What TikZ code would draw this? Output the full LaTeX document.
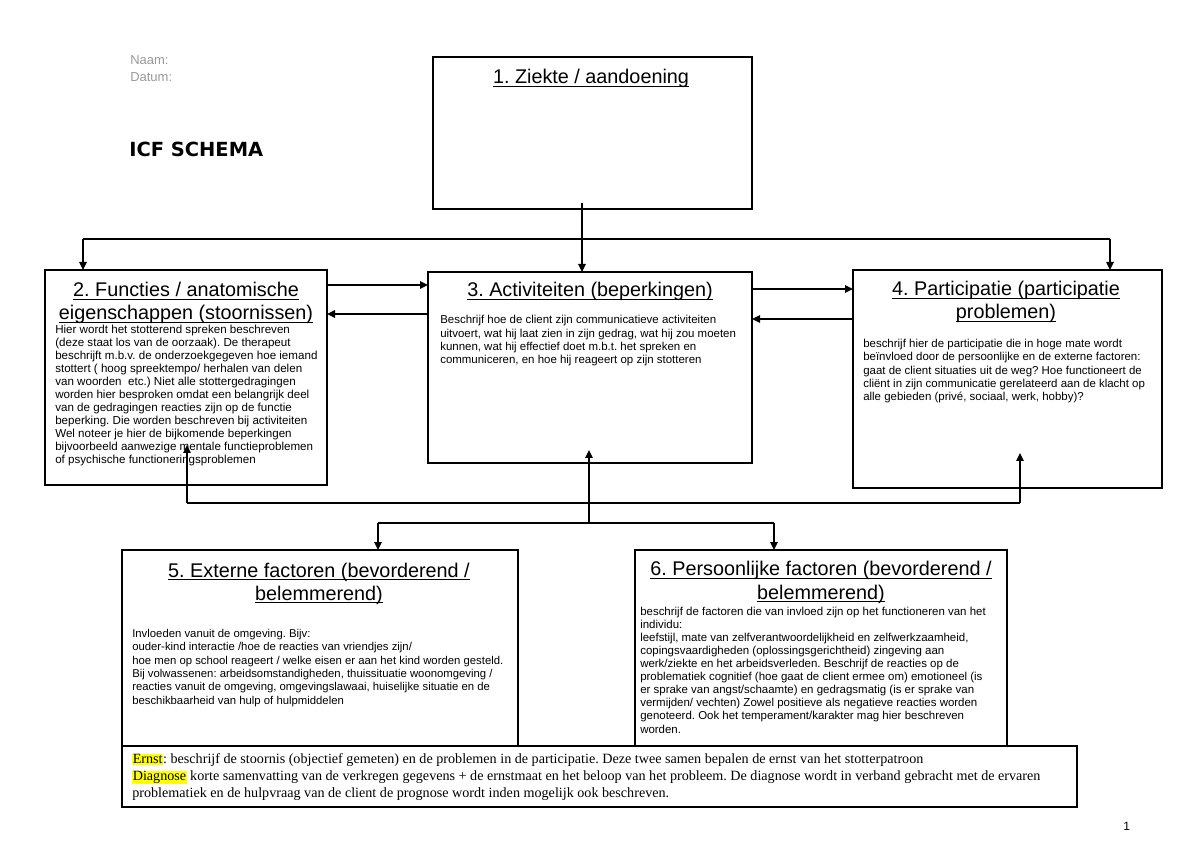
\documentclass[tikz,border=0pt]{standalone}
\usepackage{fontspec}
\setmainfont{Liberation Sans}
\newfontfamily\serifrm{Liberation Serif}
\newfontfamily\headfont{DejaVu Sans}
\usetikzlibrary{arrows.meta,fit,calc}
\definecolor{graytxt}{HTML}{9A9A9A}
\definecolor{hlyellow}{HTML}{FFFF00}
\newlength{\myulw}
\newcommand{\uln}[1]{\settowidth{\myulw}{#1}\rlap{\rule[-2.4pt]{\myulw}{0.8pt}}#1}
\newcommand{\hlt}[1]{{\setlength{\fboxsep}{0.4pt}\colorbox{hlyellow}{#1}}}
\frenchspacing
\tikzset{
  boxline/.style={draw=black, line width=1.1pt, inner sep=0pt, outer sep=0pt},
  thickbox/.style={boxline, line width=1.7pt},
  conn/.style={line width=1.1pt},
  arr/.style={conn, -{Triangle[length=6pt,width=5.5pt]}},
  ttl/.style={font=\fontsize{14.85}{17.25}\selectfont, align=center, anchor=base, inner sep=0pt},
  bodytxt/.style={align=left, anchor=base west, inner sep=0pt},
}
\begin{document}
\begin{tikzpicture}[x=0.75pt,y=-0.75pt]
\useasboundingbox (0,0) rectangle (1200,848);

% ---- header
\node[anchor=base west, inner sep=0pt, text=graytxt, font=\fontsize{9.75}{13}\selectfont] (naam) at (130,65) {Naam:};
\node[anchor=base west, inner sep=0pt, text=graytxt, font=\fontsize{9.75}{13}\selectfont] (datum) at (130,82) {Datum:};
\node[anchor=base west, inner sep=0pt, font=\headfont\bfseries\fontsize{14.6}{16}\selectfont] (icf) at (129,157) {ICF SCHEMA};

% ---- box corners
\coordinate (b1a) at (433,57);   \coordinate (b1b) at (752,209);
\coordinate (b2a) at (45,270);   \coordinate (b2b) at (327,485);
\coordinate (b3a) at (428,272);  \coordinate (b3b) at (752,463);
\coordinate (b4a) at (853,270);  \coordinate (b4b) at (1162,488);
\coordinate (b5a) at (122,550);  \coordinate (b5b) at (518,746);
\coordinate (b6a) at (635,550);  \coordinate (b6b) at (1007,746);
\coordinate (b7a) at (122,746);  \coordinate (b7b) at (1077,807);

\node[boxline, fit=(b1a)(b1b)] (b1) {};
\node[thickbox, fit=(b2a)(b2b)] (b2) {};
\node[boxline, line width=1.3pt, fit=(b3a)(b3b)] (b3) {};
\node[boxline, line width=1.4pt, fit=(b4a)(b4b)] (b4) {};
\node[boxline, fit=(b5a)(b5b)] (b5) {};
\node[boxline, fit=(b6a)(b6b)] (b6) {};
\node[boxline, fit=(b7a)(b7b)] (b7) {};

% ---- titles (base = baseline of last line)
\node[ttl] (t1) at (591,84) {\uln{1. Ziekte / aandoening}};
\node[ttl] (t2) at (186,320) {\uln{2. Functies / anatomische}\\\uln{eigenschappen (stoornissen)}};
\node[ttl] (t3) at (590,297) {\uln{3. Activiteiten (beperkingen)}};
\node[ttl] (t4) at (1006,319) {\uln{4. Participatie (participatie}\\\uln{problemen)}};
\node[ttl] (t5) at (319,600) {\uln{5. Externe factoren (bevorderend /}\\\uln{belemmerend)}};
\node[ttl] (t6) at (821,599) {\uln{6. Persoonlijke factoren (bevorderend /}\\\uln{belemmerend)}};

% ---- body texts (base = baseline of last line)
\node[bodytxt, font=\fontsize{8.7}{9.75}\selectfont] (x2) at (55,464) {Hier wordt het stotterend spreken beschreven\\(deze staat los van de oorzaak). De therapeut\\beschrijft m.b.v. de onderzoekgegeven hoe iemand\\stottert ( hoog spreektempo/ herhalen van delen\\van woorden~ etc.) Niet alle stottergedragingen\\worden hier besproken omdat een belangrijk deel\\van de gedragingen reacties zijn op de functie\\beperking. Die worden beschreven bij activiteiten\\Wel noteer je hier de bijkomende beperkingen\\bijvoorbeeld aanwezige mentale functieproblemen\\of psychische functioneringsproblemen};

\node[bodytxt, font=\fontsize{8.6}{10}\selectfont] (x3) at (440,364) {Beschrijf hoe de client zijn communicatieve activiteiten\\uitvoert, wat hij laat zien in zijn gedrag, wat hij zou moeten\\kunnen, wat hij effectief doet m.b.t. het spreken en\\communiceren, en hoe hij reageert op zijn stotteren};

\node[bodytxt, font=\fontsize{8.6}{10.1}\selectfont] (x4) at (863,401) {beschrijf hier de participatie die in hoge mate wordt\\beïnvloed door de persoonlijke en de externe factoren:\\gaat de client situaties uit de weg? Hoe functioneert de\\cliënt in zijn communicatie gerelateerd aan de klacht op\\alle gebieden (privé, sociaal, werk, hobby)?};

\node[bodytxt, font=\fontsize{8.5}{10}\selectfont] (x5) at (132,704) {Invloeden vanuit de omgeving. Bijv:\\ouder-kind interactie /hoe de reacties van vriendjes zijn/\\hoe men op school reageert / welke eisen er aan het kind worden gesteld.\\Bij volwassenen: arbeidsomstandigheden, thuissituatie woonomgeving /\\reacties vanuit de omgeving, omgevingslawaai, huiselijke situatie en de\\beschikbaarheid van hulp of hulpmiddelen};

\node[bodytxt, font=\fontsize{8.6}{9.83}\selectfont] (x6) at (640,733) {beschrijf de factoren die van invloed zijn op het functioneren van het\\individu:\\leefstijl, mate van zelfverantwoordelijkheid en zelfwerkzaamheid,\\copingsvaardigheden (oplossingsgerichtheid) zingeving aan\\werk/ziekte en het arbeidsverleden. Beschrijf de reacties op de\\problematiek cognitief (hoe gaat de client ermee om) emotioneel (is\\er sprake van angst/schaamte) en gedragsmatig (is er sprake van\\vermijden/ vechten) Zowel positieve als negatieve reacties worden\\genoteerd. Ook het temperament/karakter mag hier beschreven\\worden.};

\node[bodytxt, font=\serifrm\fontsize{10.6}{12.4}\selectfont] (x7) at (132,797) {\hlt{Ernst}: beschrijf de stoornis (objectief gemeten) en de problemen in de participatie. Deze twee samen bepalen de ernst van het stotterpatroon\\\hlt{Diagnose} korte samenvatting van de verkregen gegevens + de ernstmaat en het beloop van het probleem. De diagnose wordt in verband gebracht met de ervaren\\problematiek en de hulpvraag van de client de prognose wordt inden mogelijk ook beschreven.};

\node[anchor=base west, inner sep=0pt, font=\fontsize{9}{11}\selectfont] (pg) at (1123,830) {1};

% ---- connectors: top
\coordinate (v1) at (582,0);
\coordinate (h1l) at (83,239);
\coordinate (h1r) at (1110,239);
\draw[arr] ($(b1.south -| v1)+(0,-6)$) -- (b3.north -| v1);
\draw[conn] (h1l) -- (h1r);
\draw[arr] (h1l) -- (h1l |- b2.north);
\draw[arr] (h1r) -- (h1r |- b4.north);

% ---- connectors: middle
\coordinate (r1) at (0,285);
\coordinate (r2) at (0,314);
\coordinate (r3) at (0,289);
\coordinate (r4) at (0,319);
\draw[arr] (b2.east |- r1) -- (b3.west |- r1);
\draw[arr] (b3.west |- r2) -- (b2.east |- r2);
\draw[arr] (b3.east |- r3) -- (b4.west |- r3);
\draw[arr] (b4.west |- r4) -- (b3.east |- r4);

% ---- connectors: bottom
\coordinate (j1) at (589,523);
\coordinate (j2l) at (378,523);
\coordinate (j2r) at (774,523);
\coordinate (k1) at (187,503);
\coordinate (k2) at (1020,503);
\draw[arr] (j1) -- ($(b3.south -| j1)+(0,-13)$);
\draw[conn] (j2l) -- (j2r);
\draw[arr] (j2l) -- (j2l |- b5.north);
\draw[arr] (j2r) -- (j2r |- b6.north);
\draw[conn] (k1) -- (k2);
\draw[arr] (k1) -- ($(b2.south -| k1)+(0,-40)$);
\draw[arr] (k2) -- ($(b4.south -| k2)+(0,-35)$);
\end{tikzpicture}
\end{document}
